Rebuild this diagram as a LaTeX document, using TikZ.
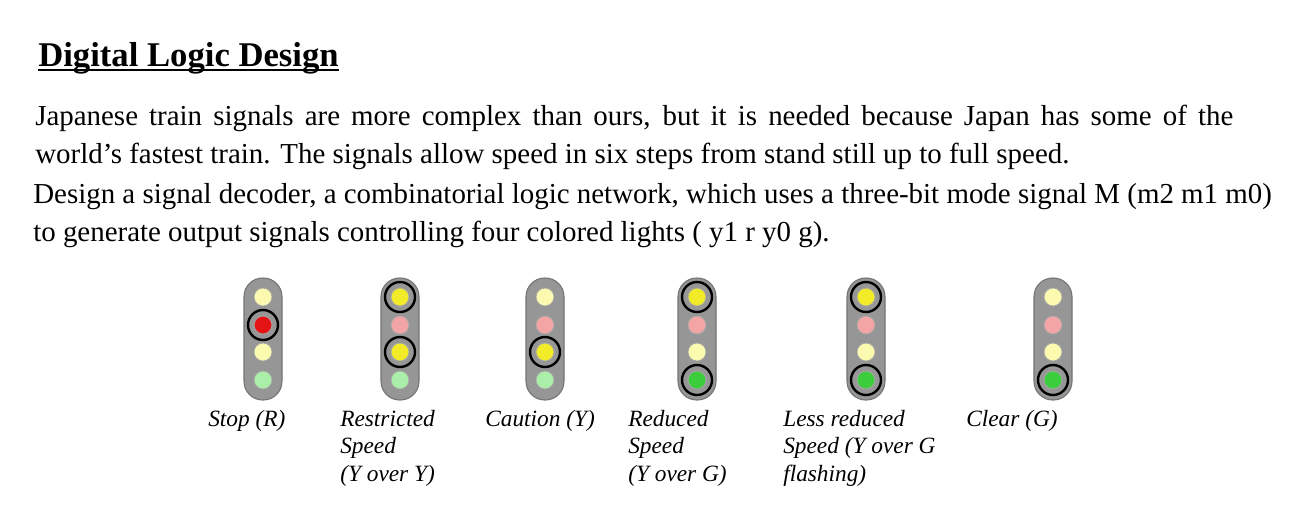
\documentclass[tikz,border=0pt]{standalone}
\usepackage{fontspec}
\setmainfont{Liberation Serif}
\definecolor{yd}{RGB}{252,250,175}
\definecolor{rd}{RGB}{243,165,165}
\definecolor{gd}{RGB}{170,238,170}
\definecolor{yb}{RGB}{242,236,40}
\definecolor{rb}{RGB}{228,20,20}
\definecolor{gb}{RGB}{60,205,60}
\definecolor{body}{RGB}{150,150,150}
\tikzset{
 txt/.style={anchor=base west,inner sep=0pt,font=\fontsize{21.7}{26}\selectfont},
 lab/.style={anchor=north west,inner sep=0pt,align=left,font=\fontsize{17.5}{20.5}\selectfont\itshape},
 lamp/.style={circle,minimum size=13.5pt,inner sep=0pt,draw=black!35,line width=0.6pt},
 ring/.style={circle,minimum size=22.5pt,inner sep=0pt,draw=black,line width=1.8pt},
 housing/.style={rounded corners=14pt,fill=body,draw=black!55,line width=0.8pt}
}
\begin{document}
\begin{tikzpicture}[x=0.75pt,y=-0.75pt]
\useasboundingbox (0,0) rectangle (1316,526);
\node[txt,font=\fontsize{26}{30}\selectfont\bfseries] (title) at (38,66) {Digital Logic Design};
\draw[line width=1.5pt] ([yshift=-3pt]title.base west) -- ([yshift=-3pt]title.base east);
\node[txt] (l1) at (35,125) {\makebox[1198\dimexpr0.75pt][s]{Japanese train signals are more complex than ours, but it is needed because Japan has some of the}};
\node[txt] (l2) at (35,163) {world\char"0027 s fastest train. The signals allow speed in six steps from stand still up to full speed.};
\node[txt] (l3) at (33,203) {Design a signal decoder, a combinatorial logic network, which uses a three-bit mode signal M (m2 m1 m0)};
\node[txt] (l4) at (33,241) {to generate output signals controlling four colored lights ( y1 r y0 g).};
\foreach \n/\x/\a/\b/\c/\d in {s1/263/yd/rb/yd/gd, s2/400/yb/rd/yb/gd, s3/545/yd/rd/yb/gd, s4/697/yb/rd/yd/gb, s5/866/yb/rd/yd/gb, s6/1053/yd/rd/yd/gb}{
  \draw[housing] (\x-19,278) rectangle (\x+19,400);
  \node[lamp,fill=\a] (\n-1) at (\x,297) {};
  \node[lamp,fill=\b] (\n-2) at (\x,325) {};
  \node[lamp,fill=\c] (\n-3) at (\x,352) {};
  \node[lamp,fill=\d] (\n-4) at (\x,380) {};
}
\foreach \r in {s1-2,s2-1,s2-3,s3-3,s4-1,s4-4,s5-1,s5-4,s6-4}{
  \node[ring] at (\r) {};
}
\node[lab] (t1) at (208,410) {Stop (R)};
\node[lab] (t2) at (340,410) {Restricted\\Speed\\(Y over Y)};
\node[lab] (t3) at (485,410) {Caution (Y)};
\node[lab] (t4) at (628,410) {Reduced\\Speed\\(Y over G)};
\node[lab] (t5) at (783,410) {Less reduced\\Speed (Y over G\\flashing)};
\node[lab] (t6) at (966,410) {Clear (G)};
\end{tikzpicture}
\end{document}
